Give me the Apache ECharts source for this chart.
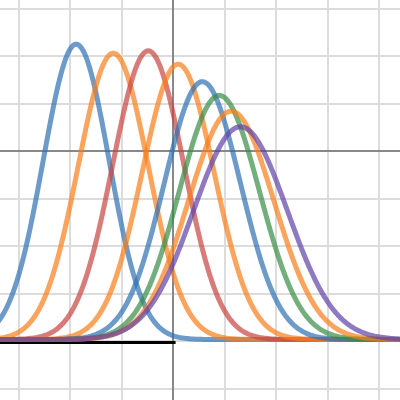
<!DOCTYPE html>
<html>
<head>
<meta charset="utf-8">
<script src="https://cdn.jsdelivr.net/npm/echarts@6/dist/echarts.min.js"></script>
<style>html,body{margin:0;padding:0;background:#fff;}#c{width:400px;height:400px;}</style>
</head>
<body>
<div id="c"></div>
<script>
// Bell curves (units of the grid)
var curveNames = ['c1', 'c2', 'c3', 'c4', 'c5', 'c6', 'c7', 'c8'];
var curveColors = ['#2d70b3', '#fa7e19', '#c74440', '#fa7e19', '#2d70b3', '#388c46', '#fa7e19', '#6042a6'];
var means = [-1.88, -1.16, -0.48, 0.10, 0.57, 0.90, 1.13, 1.31];
var sigmas = [0.64, 0.68, 0.69, 0.70, 0.74, 0.78, 0.83, 0.91];
var peaks = [6.22, 6.03, 6.08, 5.80, 5.43, 5.14, 4.81, 4.48];
var baseline = -3.97;
// black segment along the bottom
var blackX = [-3.6, 0.05];
var blackY = -4.03;

var xMin = -4, xMax = 5, yMin = -6, yMax = 4;

function curveData(i) {
  var pts = [];
  for (var x = -3.6; x <= 4.6; x += 0.02) {
    var d = (x - means[i]) / sigmas[i];
    pts.push([x, baseline + peaks[i] * Math.exp(-0.5 * d * d)]);
  }
  return pts;
}

var series = [{
  type: 'line',
  data: [[blackX[0], blackY], [blackX[1], blackY]],
  showSymbol: false,
  lineStyle: { color: '#000', width: 3 },
  silent: true,
  z: 1
}];
for (var i = 0; i < curveNames.length; i++) {
  series.push({
    name: curveNames[i],
    type: 'line',
    data: curveData(i),
    showSymbol: false,
    smooth: false,
    lineStyle: { color: curveColors[i], width: 5, opacity: 0.7, cap: 'round', join: 'round' },
    silent: true,
    z: 2
  });
}

var chart = echarts.init(document.getElementById('c'), null, { renderer: 'canvas' });
chart.setOption({
  animation: false,
  backgroundColor: '#fff',
  grid: { left: -33, top: -39, width: 463.5, height: 475, containLabel: false, outerBoundsMode: 'none' },
  xAxis: {
    type: 'value', min: xMin, max: xMax, interval: 1,
    axisLabel: { show: false }, axisTick: { show: false },
    axisLine: { show: true, onZero: true, lineStyle: { color: '#888', width: 2 } },
    splitLine: { show: true, lineStyle: { color: '#dcdcdc', width: 2 } }
  },
  yAxis: {
    type: 'value', min: yMin, max: yMax, interval: 1,
    axisLabel: { show: false }, axisTick: { show: false },
    axisLine: { show: true, onZero: true, lineStyle: { color: '#888', width: 2 } },
    splitLine: { show: true, lineStyle: { color: '#dcdcdc', width: 2 } }
  },
  series: series
});
</script>
</body>
</html>
